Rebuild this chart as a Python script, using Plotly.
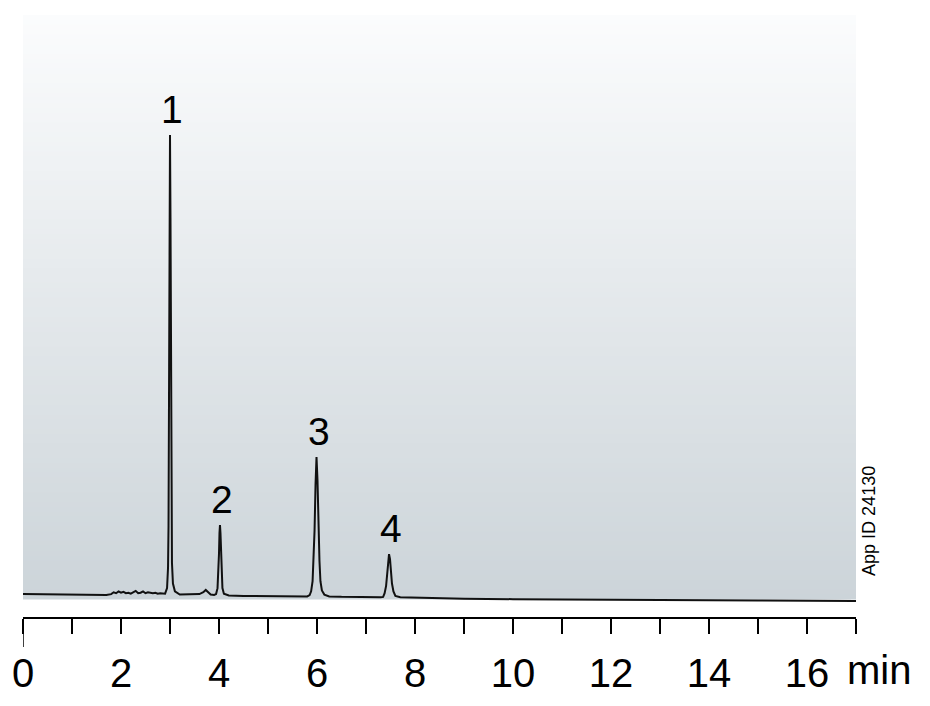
import plotly.graph_objects as go

# Chromatogram trace (time in min, signal in arbitrary units)
time_min = [0.00, 0.50, 1.00, 1.70, 1.80, 1.85, 1.90, 1.95, 2.00, 2.05, 2.10, 2.15, 2.20, 2.25,
            2.30, 2.35, 2.40, 2.45, 2.50, 2.55, 2.60, 2.65, 2.70, 2.75, 2.80, 2.85,
            2.90, 2.94, 2.96, 2.97, 2.98, 2.99, 3.00, 3.01, 3.02, 3.03, 3.04, 3.06, 3.10,
            3.20, 3.40, 3.60, 3.68, 3.73, 3.78, 3.83, 3.90,
            3.94, 3.97, 3.99, 4.00, 4.01, 4.02, 4.03, 4.04, 4.05, 4.07, 4.10, 4.20,
            4.50, 5.00, 5.50, 5.80,
            5.85, 5.88, 5.91, 5.93, 5.95, 5.97, 5.99, 6.01, 6.03, 6.05, 6.07, 6.10, 6.15, 6.25,
            6.50, 7.00, 7.30,
            7.35, 7.38, 7.41, 7.43, 7.45, 7.47, 7.49, 7.51, 7.53, 7.56, 7.60, 7.70,
            8.00, 9.00, 10.00, 11.00, 12.00, 13.00, 14.00, 15.00, 16.00, 17.00]
signal = [0.2, 0.1, 0.0, 0.0, 0.2, 0.6, 0.4, 0.8, 0.5, 0.7, 0.4, 0.5, 0.3, 0.6,
          0.9, 0.4, 0.5, 0.8, 0.4, 0.6, 0.5, 0.4, 0.5, 0.3, 0.4, 0.3,
          0.3, 1.5, 6.0, 15.0, 40.0, 80.0, 100.0, 82.0, 45.0, 18.0, 7.0, 2.5, 0.8,
          0.1, 0.1, 0.2, 0.6, 1.1, 0.6, 0.1, 0.0,
          0.2, 1.5, 5.0, 9.0, 13.5, 15.2, 13.5, 9.0, 5.0, 1.5, 0.3, -0.1,
          -0.2, -0.3, -0.35, -0.3,
          0.0, 0.8, 3.0, 7.0, 14.0, 24.0, 30.0, 25.0, 15.0, 7.5, 3.0, 1.0, 0.1, -0.3,
          -0.4, -0.5, -0.5,
          -0.4, 0.4, 2.0, 4.5, 7.5, 8.9, 7.8, 5.0, 2.5, 0.8, -0.2, -0.5,
          -0.6, -0.8, -0.9, -1.0, -1.1, -1.15, -1.15, -1.2, -1.2, -1.3]

peak_labels = ["1", "2", "3", "4"]
peak_times = [3.00, 4.02, 5.99, 7.47]
peak_heights = [100.0, 15.2, 30.0, 8.9]

tick_vals = list(range(0, 18))
tick_text = [str(v) if v % 2 == 0 and v <= 16 else "" for v in tick_vals]

FONT = "Liberation Sans, Arial, sans-serif"

fig = go.Figure()
fig.add_trace(go.Scatter(x=time_min, y=signal, mode="lines",
                         line=dict(color="#111111", width=2), hoverinfo="skip",
                         showlegend=False))

# gradient background panel (vertical bands)
y_lo, y_hi = -0.95, 126.1
top_rgb = (251, 252, 253)
bot_rgb = (204, 212, 217)
n = 120
for i in range(n):
    f0 = i / n
    f1 = (i + 1) / n
    fm = (i + 0.5) / n
    c = tuple(round(top_rgb[k] + (bot_rgb[k] - top_rgb[k]) * fm) for k in range(3))
    y1 = y_hi - (y_hi - y_lo) * f0
    y0 = max(y_lo, y_hi - (y_hi - y_lo) * f1 - 0.6)
    fig.add_shape(type="rect", xref="x", yref="y",
                  x0=-0.06, x1=17.06, y0=y0, y1=y1,
                  fillcolor="rgb(%d,%d,%d)" % c, line=dict(width=0), layer="below")

for lab, t, h in zip(peak_labels, peak_times, peak_heights):
    fig.add_annotation(x=t, y=h, text=lab, showarrow=False, xref="x", yref="y",
                       xanchor="center", yanchor="middle", xshift=2, yshift=26,
                       font=dict(family=FONT, size=39, color="black"))

# longer tick at 0
fig.add_shape(type="line", xref="x", yref="paper", x0=0, x1=0, y0=0, y1=-0.048,
              line=dict(color="black", width=1.5))

fig.add_annotation(x=16, y=-0.0862, xref="x", yref="paper", text="min", showarrow=False,
                   xanchor="left", yanchor="middle", xshift=38,
                   font=dict(family=FONT, size=40, color="black"))

fig.add_annotation(x=1.0, y=0.161, xref="paper", yref="paper", text="App ID 24130",
                   showarrow=False, textangle=-90, xanchor="center", yanchor="middle",
                   xshift=13, font=dict(family=FONT, size=18, color="black"))

fig.update_layout(
    width=922, height=698,
    margin=dict(l=15, r=74, t=7, b=88),
    paper_bgcolor="white", plot_bgcolor="rgba(0,0,0,0)",
    xaxis=dict(range=[0, 17], anchor="free", position=0, showgrid=False, zeroline=False,
               showline=True, linecolor="black", linewidth=1.5, automargin=False,
               ticks="outside", ticklen=15, tickwidth=1.5, tickcolor="black",
               ticklabelstandoff=5,
               tickmode="array", tickvals=tick_vals, ticktext=tick_text,
               tickfont=dict(family=FONT, size=40, color="black")),
    yaxis=dict(range=[-1.52, 126.1], domain=[0.0265, 1], visible=False,
               showgrid=False, zeroline=False, automargin=False),
)

fig.write_html("out.html")
